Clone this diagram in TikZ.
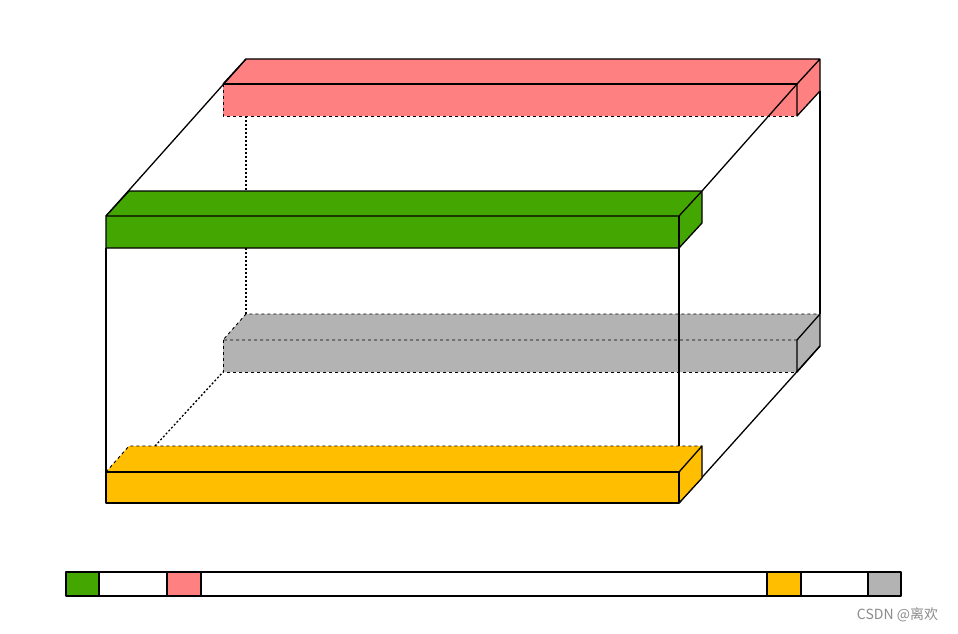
\documentclass[tikz,border=0pt]{standalone}
\usepackage{fontspec}
\newfontfamily\cjk{Noto Sans CJK SC}
\definecolor{pinkc}{HTML}{FF8080}
\definecolor{greenc}{HTML}{44A600}
\definecolor{grayc}{HTML}{B3B3B3}
\definecolor{yellowc}{HTML}{FFBF00}
\begin{document}
\begin{tikzpicture}[x=1pt,y=-1pt,line width=1.3pt,line join=round,
  hid/.style={dashed,line width=0.9pt},
  dot/.style={dash pattern=on 2pt off 2pt,line width=1.3pt},
  cell/.style={draw,line width=1.3pt}]
\fill[white] (0,0) rectangle (958,634);
\useasboundingbox (0,0) rectangle (958,634);
% pink bar (back top)
\fill[pinkc] (223,84) -- (246,59) -- (820,59) -- (820,91) -- (797,116) -- (223,116) -- cycle;
\draw (223,84) -- (246,59) -- (820,59) -- (820,91) -- (797,116) -- (797,84) -- (820,59);
\draw (223,84) -- (797,84);
\draw[hid] (223,84) -- (223,116) -- (797,116);
% gray bar (back bottom)
\fill[grayc] (223,340) -- (246,314) -- (820,314) -- (820,346) -- (797,372) -- (223,372) -- cycle;
\draw[hid] (797,340) -- (223,340) -- (246,314) -- (820,314);
\draw[hid] (223,340) -- (223,372) -- (797,372);
\draw (797,340) -- (820,314) -- (820,346) -- (797,372) -- cycle;
% hidden edges
\draw[dot] (246,116) -- (246,314);
\draw[dot] (155,446) -- (223,372);
% visible box edges
\draw (106,216) -- (246,59);
\draw (702,191) -- (797,84);
\draw (820,91) -- (820,314);
\draw (679,503) -- (820,346);
\draw (106,248) -- (106,472);
\draw (679,248) -- (679,472);
% yellow bar (front bottom)
\fill[yellowc] (106,472) -- (129,446) -- (702,446) -- (702,478) -- (679,503) -- (106,503) -- cycle;
\draw[hid] (106,472) -- (129,446) -- (702,446);
\draw (106,472) rectangle (679,503);
\draw (679,472) -- (702,446) -- (702,478) -- (679,503);
% green bar (front top)
\fill[greenc] (106,216) -- (129,191) -- (702,191) -- (702,223) -- (679,248) -- (106,248) -- cycle;
\draw (106,216) -- (129,191) -- (702,191) -- (702,223) -- (679,248) -- (106,248) -- cycle;
\draw (106,216) -- (679,216) -- (702,191);
\draw (679,216) -- (679,248);
% legend bar
\draw[cell,fill=greenc] (66,572) rectangle (99,596);
\draw[cell,fill=white] (99,572) rectangle (167,596);
\draw[cell,fill=pinkc] (167,572) rectangle (201,596);
\draw[cell,fill=white] (201,572) rectangle (767,596);
\draw[cell,fill=yellowc] (767,572) rectangle (801,596);
\draw[cell,fill=white] (801,572) rectangle (868,596);
\draw[cell,fill=grayc] (868,572) rectangle (901,596);
\node[text=black!45,font=\cjk\fontsize{14}{16}\selectfont,anchor=east] (wm) at (942,615) {CSDN @离欢};
\end{tikzpicture}
\end{document}
